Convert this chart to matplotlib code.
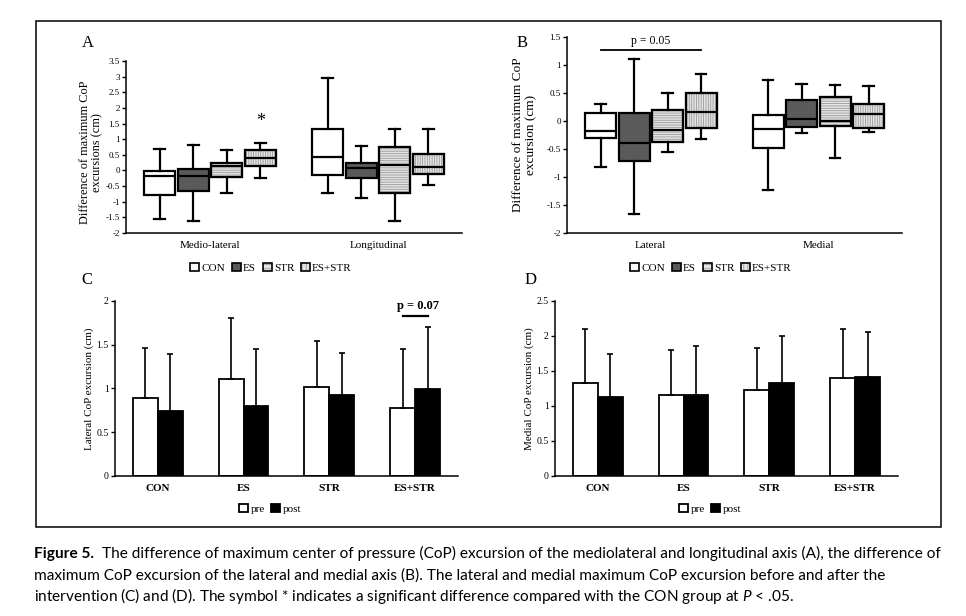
import numpy as np
import matplotlib
matplotlib.use("Agg")
import matplotlib.pyplot as plt
from matplotlib.patches import Patch, PathPatch, Rectangle

plt.rcParams["font.family"] = "Liberation Serif"
plt.rcParams["hatch.linewidth"] = 0.6
plt.rcParams["mathtext.fontset"] = "custom"
plt.rcParams["mathtext.it"] = "Lato:italic"

groups = ["CON", "ES", "STR", "ES+STR"]
a_cats = ["Medio-lateral", "Longitudinal"]
b_cats = ["Lateral", "Medial"]

# box stats, [group][category]
a_low = [[-1.54, -0.71], [-1.63, -0.88], [-0.72, -1.63], [-0.23, -0.45]]
a_q1 = [[-0.78, -0.14], [-0.66, -0.24], [-0.21, -0.72], [0.14, -0.10]]
a_med = [[-0.18, 0.43], [-0.19, 0.07], [0.13, 0.18], [0.40, 0.12]]
a_q3 = [[-0.02, 1.33], [0.03, 0.23], [0.24, 0.76], [0.64, 0.53]]
a_high = [[0.69, 2.96], [0.82, 0.78], [0.66, 1.31], [0.88, 1.33]]

b_low = [[-0.82, -1.23], [-1.67, -0.22], [-0.55, -0.67], [-0.32, -0.19]]
b_q1 = [[-0.30, -0.49], [-0.71, -0.11], [-0.38, -0.09], [-0.13, -0.13]]
b_med = [[-0.18, -0.15], [-0.40, 0.04], [-0.16, 0.01], [0.17, 0.12]]
b_q3 = [[0.14, 0.11], [0.15, 0.37], [0.19, 0.43], [0.51, 0.30]]
b_high = [[0.31, 0.73], [1.11, 0.67], [0.51, 0.65], [0.85, 0.62]]

# pre / post means and SD
c_pre = [0.885, 1.11, 1.01, 0.77]
c_pre_sd = [0.575, 0.69, 0.53, 0.68]
c_post = [0.74, 0.80, 0.92, 0.99]
c_post_sd = [0.65, 0.65, 0.49, 0.71]

d_pre = [1.32, 1.16, 1.22, 1.40]
d_pre_sd = [0.78, 0.64, 0.60, 0.70]
d_post = [1.12, 1.15, 1.32, 1.41]
d_post_sd = [0.62, 0.71, 0.68, 0.64]

a_ticks = [-2, -1.5, -1, -0.5, 0, 0.5, 1, 1.5, 2, 2.5, 3, 3.5]
b_ticks = [-2, -1.5, -1, -0.5, 0, 0.5, 1, 1.5]
c_ticks = [0, 0.5, 1, 1.5, 2]
d_ticks = [0, 0.5, 1, 1.5, 2, 2.5]

box_fc = ["white", "#5a5a5a", "#e4e4e4", "#e4e4e4"]
box_hatch = [None, None, "-------", "|||||||"]
hatch_col = "#9a9a9a"
offsets = [-0.3, -0.1, 0.1, 0.3]

fig = plt.figure(figsize=(9.66, 6.16), dpi=100)


def fmt(v):
    return ("%g" % v)


def style_axes(ax, ticks, ylim, tsize):
    for s in ["top", "right"]:
        ax.spines[s].set_visible(False)
    for s in ["left", "bottom"]:
        ax.spines[s].set_linewidth(1.1)
    ax.set_ylim(*ylim)
    ax.set_yticks(ticks)
    ax.set_yticklabels([fmt(t) for t in ticks], fontsize=tsize)
    ax.tick_params(axis="y", length=3, width=1, pad=1.5)
    ax.tick_params(axis="x", length=0, pad=6)


def box_panel(ax, cats, low, q1, med, q3, high):
    lw = 1.6
    for g in range(4):
        stats = [dict(whislo=low[g][k], q1=q1[g][k], med=med[g][k],
                      q3=q3[g][k], whishi=high[g][k]) for k in range(len(cats))]
        pos = np.arange(len(cats)) + offsets[g]
        art = ax.bxp(stats, positions=pos, widths=0.185, capwidths=0.065,
                     showfliers=False, patch_artist=True,
                     boxprops=dict(facecolor=box_fc[g], edgecolor="k", linewidth=lw),
                     medianprops=dict(color="k", linewidth=lw),
                     whiskerprops=dict(color="k", linewidth=lw),
                     capprops=dict(color="k", linewidth=lw))
        if box_hatch[g]:
            for b in art["boxes"]:
                b.set_edgecolor(hatch_col)
                b.set_hatch(box_hatch[g])
                ax.add_patch(PathPatch(b.get_path(), transform=b.get_transform(),
                                       fc="none", ec="k", lw=lw, zorder=2.5))
    ax.set_xlim(-0.5, len(cats) - 0.5)
    ax.set_xticks(range(len(cats)))
    ax.set_xticklabels(cats, fontsize=8)


def box_handles():
    hs = []
    for g in range(4):
        if box_hatch[g]:
            hs.append((Patch(fc=box_fc[g], ec=hatch_col, hatch=box_hatch[g][:4], lw=0),
                       Patch(fc="none", ec="k", lw=1.2)))
        else:
            hs.append(Patch(fc=box_fc[g], ec="k", lw=1.2))
    return hs


def bar_panel(ax, pre, pre_sd, post, post_sd):
    x = np.arange(len(groups))
    ekw = dict(ecolor="k", elinewidth=1.2, capsize=2, capthick=1.2)
    ax.bar(x - 0.145, pre, 0.29, color="white", edgecolor="k", linewidth=1.3,
           yerr=[np.zeros(len(pre)), pre_sd], error_kw=ekw, label="pre")
    ax.bar(x + 0.145, post, 0.29, color="black", edgecolor="k", linewidth=1.3,
           yerr=[np.zeros(len(post)), post_sd], error_kw=ekw, label="post")
    ax.set_xlim(-0.5, 3.5)
    ax.set_xticks(x)
    ax.set_xticklabels(groups, fontsize=8, fontweight="bold")


leg_kw = dict(loc="center", bbox_transform=fig.transFigure, frameon=False,
              fontsize=8, handlelength=0.8, handleheight=0.8,
              handletextpad=0.2, columnspacing=0.6, borderaxespad=0)

# A
axA = fig.add_axes([0.1304, 0.6218, 0.3479, 0.2792])
style_axes(axA, a_ticks, (-2, 3.5), 6.5)
box_panel(axA, a_cats, a_low, a_q1, a_med, a_q3, a_high)
axA.set_ylabel("Difference of maximum CoP\nexcursions (cm)", fontsize=8.8, linespacing=1.1)
axA.yaxis.set_label_coords(-0.066, 0.47)
axA.text(0.3, 1.55, "*", ha="center", va="center", fontsize=13)
axA.legend(box_handles(), groups, ncol=4, bbox_to_anchor=(0.2805, 0.565), **leg_kw)

# B
axB = fig.add_axes([0.5870, 0.6222, 0.3468, 0.3172])
style_axes(axB, b_ticks, (-2, 1.5), 6.5)
box_panel(axB, b_cats, b_low, b_q1, b_med, b_q3, b_high)
axB.set_ylabel("Difference of maximum CoP\nexcursion (cm)", fontsize=9.5, linespacing=1.1)
axB.yaxis.set_label_coords(-0.090, 0.5)
axB.plot([-0.3, 0.3], [1.28, 1.28], color="k", lw=1.3, clip_on=False)
axB.text(0, 1.33, "p = 0.05", ha="center", va="bottom", fontsize=8.5)
axB.legend(box_handles(), groups, ncol=4, bbox_to_anchor=(0.736, 0.565), **leg_kw)

# C
axC = fig.add_axes([0.1190, 0.2278, 0.3551, 0.2836])
style_axes(axC, c_ticks, (0, 2), 7)
bar_panel(axC, c_pre, c_pre_sd, c_post, c_post_sd)
axC.set_ylabel("Lateral CoP excursion (cm)", fontsize=8)
axC.yaxis.set_label_coords(-0.062, 0.5)
axC.plot([2.855, 3.145], [1.83, 1.83], color="k", lw=1.6)
axC.text(3.03, 1.87, "p = 0.07", ha="center", va="bottom", fontsize=9, fontweight="bold")
axC.legend(ncol=2, bbox_to_anchor=(0.2795, 0.1737), **leg_kw)

# D
axD = fig.add_axes([0.5745, 0.2278, 0.3551, 0.2836])
style_axes(axD, d_ticks, (0, 2.5), 7)
bar_panel(axD, d_pre, d_pre_sd, d_post, d_post_sd)
axD.set_ylabel("Medial CoP excursion (cm)", fontsize=8)
axD.yaxis.set_label_coords(-0.062, 0.5)
axD.legend(ncol=2, bbox_to_anchor=(0.735, 0.1737), **leg_kw)

# panel letters
for lab, x, y in [("A", 0.091, 0.930), ("B", 0.540, 0.930),
                  ("C", 0.090, 0.546), ("D", 0.549, 0.546)]:
    fig.text(x, y, lab, fontsize=12, ha="center", va="center")

# outer frame
fig.add_artist(Rectangle((0.0373, 0.1445), 0.9369, 0.8214, transform=fig.transFigure,
                         fill=False, ec="k", lw=1.1))

# caption
cap = dict(family="Lato", fontsize=11.1, va="baseline")
renderer = fig.canvas.get_renderer()
x0 = 34 / 966
t = fig.text(x0, 1 - 558 / 616, "Figure 5.", fontweight="bold", **cap)
x1 = t.get_window_extent(renderer).x1 / fig.bbox.width + 8 / 966
fig.text(x1, 1 - 558 / 616, "The difference of maximum center of pressure (CoP) excursion of the "
         "mediolateral and longitudinal axis (A), the difference of", **cap)
fig.text(x0, 1 - 580 / 616, "maximum CoP excursion of the lateral and medial axis (B). The lateral "
         "and medial maximum CoP excursion before and after the", **cap)
fig.text(x0, 1 - 601 / 616, "intervention (C) and (D). The symbol * indicates a significant "
         "difference compared with the CON group at $P$ < .05.", **cap)

fig.savefig("out.png", dpi=100)
